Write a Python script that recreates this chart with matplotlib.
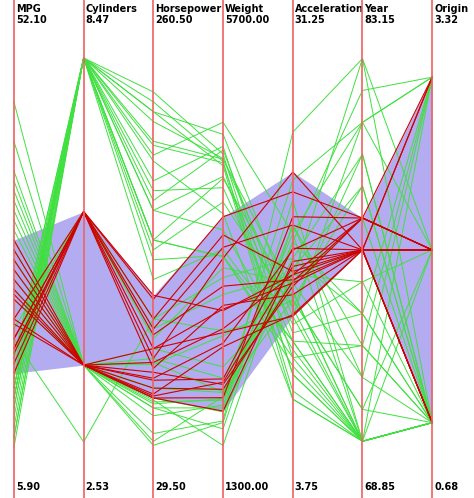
import matplotlib
matplotlib.use("Agg")
import matplotlib.pyplot as plt
import numpy as np

names = ["MPG", "Cylinders", "Horsepower", "Weight", "Acceleration", "Year", "Origin"]
mins = [5.90, 2.53, 29.50, 1300.00, 3.75, 68.85, 0.68]
maxs = [52.10, 8.47, 260.50, 5700.00, 31.25, 83.15, 3.32]

g_mpg = [18,15,18,16,17,15,14,14,14,15,10,10,11,9,13,12,13,14,16,15,26,27,31,32,35,29,33,37,44,40,24,25,28,30,34,36,21,22,19,20]
g_cyl = [8]*20 + [4]*16 + [6,6,6,3]
g_hp = [130,165,150,150,140,198,220,215,225,190,215,200,210,193,175,180,170,165,150,145,46,88,65,61,69,70,75,68,48,52,95,87,90,67,65,75,100,110,105,110]
g_weight = [3504,3693,3436,3433,3449,4341,4354,4312,4425,3850,4615,4376,4382,4732,4100,4499,4464,4209,4190,3962,1835,2130,1773,2003,1613,1937,2125,2050,2085,1850,2372,2672,2264,2065,1975,2155,3329,3233,3070,2720]
g_accel = [12,11.5,11,12,10.5,10,9,8.5,10,8.5,14,15,13.5,18.5,12,11,12.5,13,14.5,14,20.5,14.5,19,19,18,16,17,18.5,21.7,24.6,15,14.5,15.5,16.4,18,15.8,15.5,17,16,13.5]
g_year = [70]*14 + [73,73,74,75,78,79,70,71,72,73,74,75,79,80,80,82,70,71,77,78,81,82,72,74,76,80]
g_origin = [1]*20 + [2,1,3,3,3,2,1,3,2,2,3,2,1,1,3,1,1,1,1,3]

r_mpg = [29,24,20,19,22,26,25,28,18.5,20,17.5,19,24.5,27,21.5,16.5,30,22]
r_cyl = [4,4,6,6,4,4,4,4,6,6,6,6,4,4,4,6,4,6]
r_hp = [70,95,122,95,72,79,71,75,110,102,90,105,88,83,80,120,70,85]
r_weight = [1945,2702,2914,2930,2565,2255,2223,2155,3645,3150,3420,3525,2740,2202,2600,3820,2074,2965]
r_accel = [16.8,13.5,16,15.5,13.6,17.6,16.5,15.6,16.2,15.7,22.2,19,16,15.3,17.5,21,19.5,14.8]
r_year = [76,76,76,76,76,76,76,77,76,76,76,76,77,77,77,77,77,76]
r_origin = [2,3,1,3,2,2,2,3,1,2,1,1,2,2,2,2,2,1]

mins_a = np.array(mins); maxs_a = np.array(maxs)
def norm(cols):
    arr = np.array(cols, dtype=float).T
    return (arr - mins_a) / (maxs_a - mins_a)

G = norm([g_mpg, g_cyl, g_hp, g_weight, g_accel, g_year, g_origin])
R = norm([r_mpg, r_cyl, r_hp, r_weight, r_accel, r_year, r_origin])
xs = np.arange(len(names))

fig = plt.figure(figsize=(4.74, 4.98), dpi=100)
ax = fig.add_axes([0, 0, 1, 1])
ax.set_xlim(-0.2, 6.6)
ax.set_ylim(-0.044, 1.048)
ax.axis("off")

ax.fill_between(xs, R.min(axis=0), R.max(axis=0), color="#b4acf0", lw=0, zorder=1)
for row in G:
    ax.plot(xs, row, color="#40e040", lw=0.7, zorder=2)
for row in R:
    ax.plot(xs, row, color="#d00000", lw=0.8, zorder=3)
for i, x in enumerate(xs):
    ax.plot([x, x], [-0.044, 1.048], color="#f06060", lw=1.2, zorder=4)
    ax.text(x + 0.03, 1.04, names[i], fontsize=7, fontweight="bold", va="top", ha="left")
    ax.text(x + 0.03, 1.015, f"{maxs[i]:.2f}", fontsize=7, fontweight="bold", va="top", ha="left")
    ax.text(x + 0.03, -0.02, f"{mins[i]:.2f}", fontsize=7, fontweight="bold", va="center", ha="left")

fig.savefig("out.png", dpi=100)
